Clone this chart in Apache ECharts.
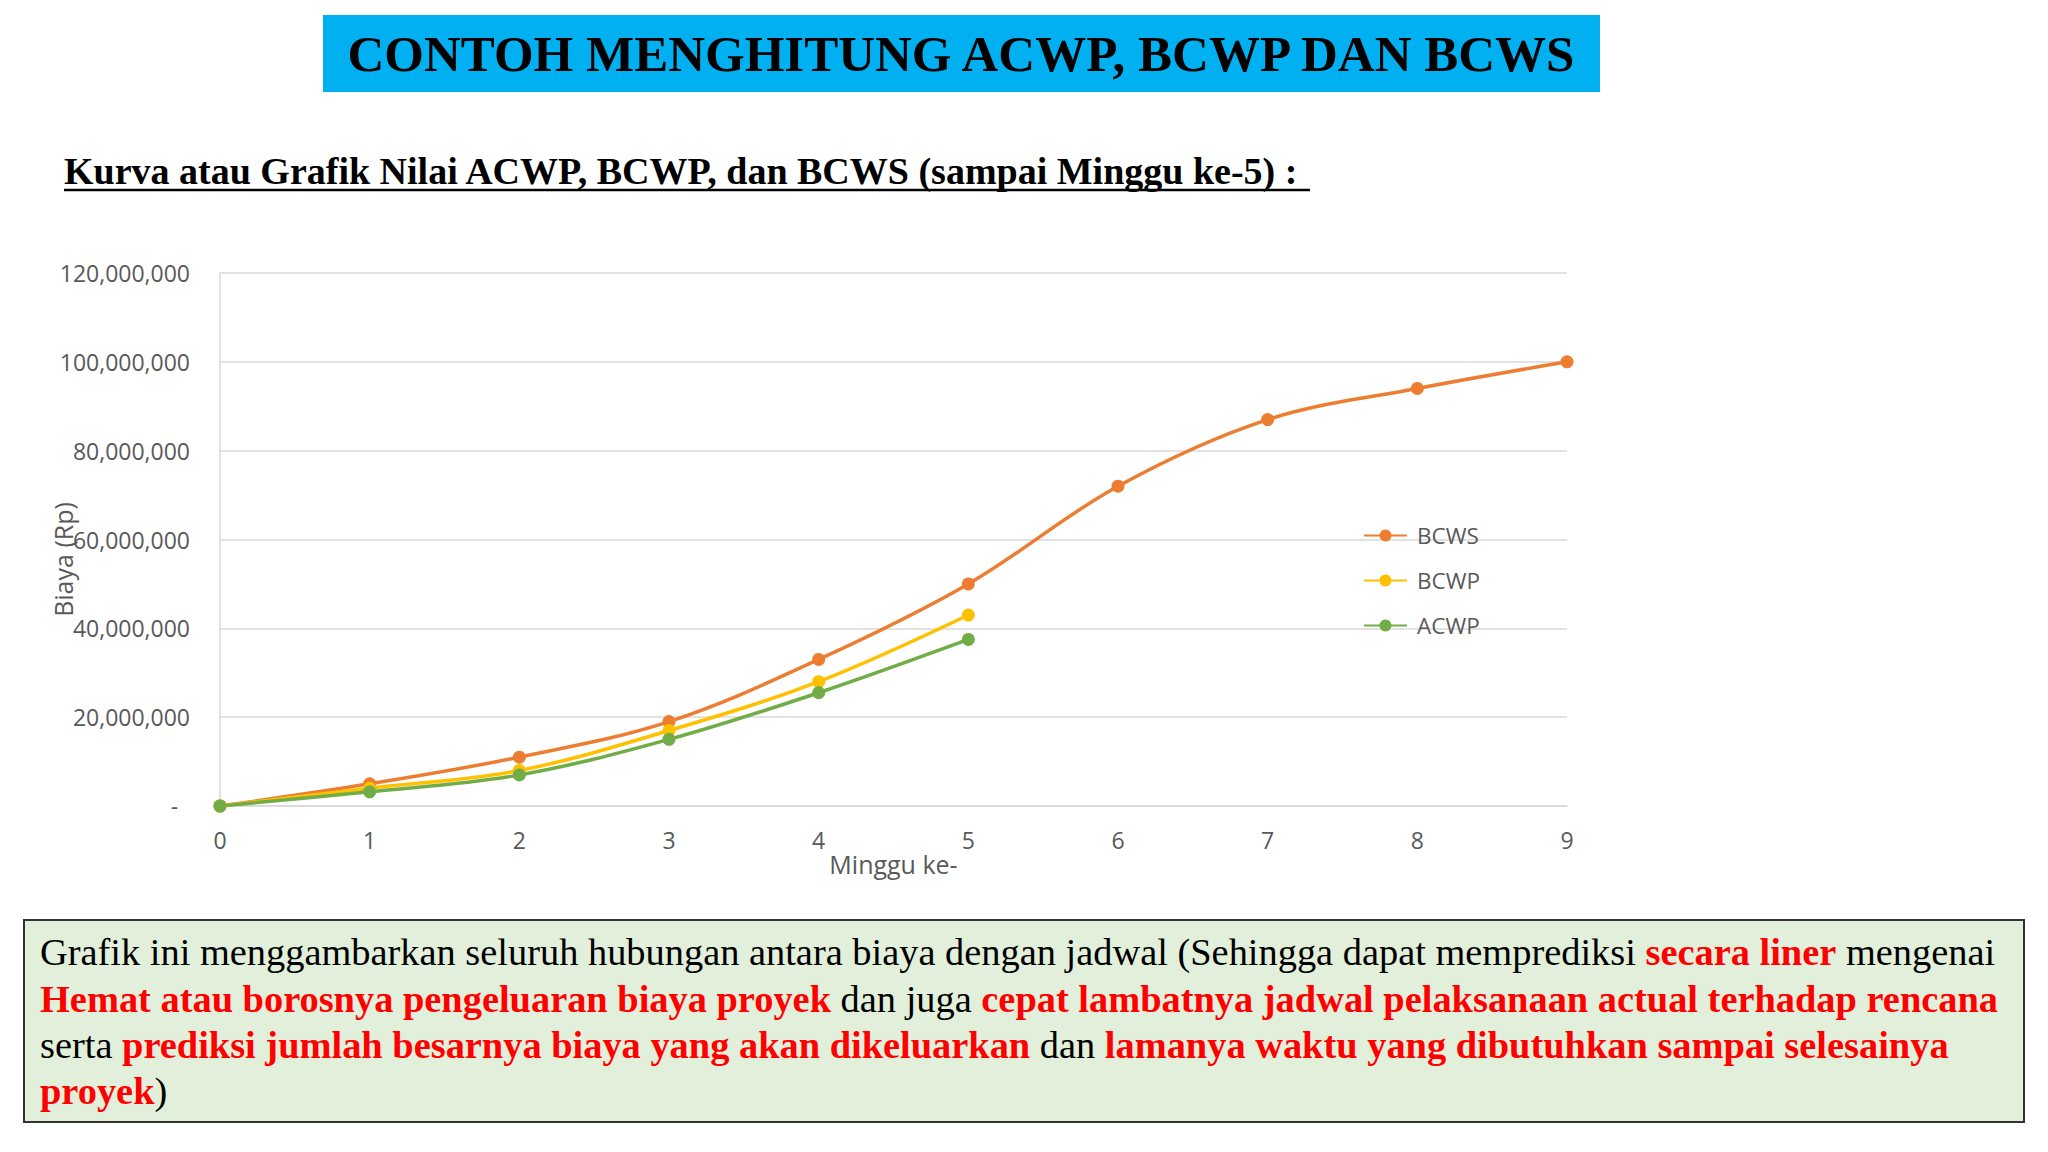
<!DOCTYPE html>
<html><head><meta charset="utf-8">
<script src="https://cdn.jsdelivr.net/npm/echarts@6/dist/echarts.min.js"></script>
<style>html,body{margin:0;padding:0;background:#fff}#c{width:2048px;height:1152px}</style>
</head><body><div id="c"></div>
<script>
// ---- data ----
const weeks = ['0','1','2','3','4','5','6','7','8','9'];
const bcws = [0, 5000000, 11000000, 19000000, 33000000, 50000000, 72000000, 87000000, 94000000, 100000000];
const bcwp = [0, 4000000, 8000000, 17000000, 28000000, 43000000];
const acwp = [0, 3200000, 7000000, 15000000, 25500000, 37500000];
const yMin = 0, yMax = 120000000, yStep = 20000000;

const titleText = 'CONTOH MENGHITUNG ACWP, BCWP DAN BCWS';
const subtitleText = 'Kurva atau Grafik Nilai ACWP, BCWP, dan BCWS (sampai Minggu ke-5) :';
const paraLines = [
  '{n|Grafik ini menggambarkan seluruh hubungan antara biaya dengan jadwal (Sehingga dapat memprediksi }{r|secara liner}{n| mengenai}',
  '{r|Hemat atau borosnya pengeluaran biaya proyek}{n| dan juga }{r|cepat lambatnya jadwal pelaksanaan actual terhadap rencana}',
  '{n|serta }{r|prediksi jumlah besarnya biaya yang akan dikeluarkan}{n| dan }{r|lamanya waktu yang dibutuhkan sampai selesainya}',
  '{r|proyek}{n|)}'
];

const chart = echarts.init(document.getElementById('c'), null, {renderer: 'svg'});
const serif = '"Liberation Serif", "Times New Roman", serif';
const paraFont = 38.4;
const rich = {
  n: {fontFamily: serif, fontSize: paraFont, fill: '#000000', fontWeight: 'normal'},
  r: {fontFamily: serif, fontSize: paraFont, fill: '#FF0000', fontWeight: 'bold'}
};
const paraY = [952, 999, 1045, 1091];

const graphic = [
  {type: 'rect', shape: {x: 323, y: 15, width: 1277, height: 77}, style: {fill: '#00B0F0'}, silent: true},
  {type: 'text', x: 961, y: 54, style: {text: titleText, fontFamily: serif, fontWeight: 'bold', fontSize: 51, fill: '#000', align: 'center', verticalAlign: 'middle'}},
  {type: 'text', x: 64, y: 171, style: {text: subtitleText, fontFamily: serif, fontWeight: 'bold', fontSize: 38, fill: '#000', align: 'left', verticalAlign: 'middle'}},
  {type: 'line', shape: {x1: 64, y1: 190, x2: 1310, y2: 190}, style: {stroke: '#000', lineWidth: 2.5}},
  {type: 'rect', shape: {x: 24, y: 920, width: 2000, height: 202}, style: {fill: '#E2EFDA', stroke: '#333', lineWidth: 2}}
];
paraLines.forEach((t, i) => {
  graphic.push({type: 'text', x: 40, y: paraY[i], style: {text: t, rich: rich, align: 'left', verticalAlign: 'middle'}});
});

const mk = (name, data, color) => ({
  name, type: 'line', data, smooth: 0.35,
  symbol: 'circle', symbolSize: 13,
  lineStyle: {color, width: 3.5},
  itemStyle: {color},
  z: 3
});

chart.setOption({
  animation: false,
  textStyle: {fontFamily: '"Open Sans", sans-serif'},
  grid: {left: 220, right: 481, top: 273, bottom: 346, containLabel: false},
  legend: {
    orient: 'vertical', left: 1358, top: 519, itemGap: 22,
    itemWidth: 43, itemHeight: 15,
    textStyle: {fontSize: 22.5, color: '#595959', fontFamily: '"Open Sans", sans-serif', padding: [0, 0, 0, 5]},
    data: ['BCWS', 'BCWP', 'ACWP']
  },
  xAxis: {
    type: 'category', data: weeks, boundaryGap: false,
    name: 'Minggu ke-', nameLocation: 'middle', nameGap: 44,
    nameTextStyle: {fontSize: 25, color: '#595959'},
    axisLine: {lineStyle: {color: '#D9D9D9', width: 1.5}},
    axisTick: {show: false},
    axisLabel: {fontSize: 23, color: '#595959', margin: 22},
    splitLine: {show: false}
  },
  yAxis: {
    type: 'value', min: yMin, max: yMax, interval: yStep,
    name: 'Biaya (Rp)', nameLocation: 'middle', nameGap: 145, nameRotate: 90,
    nameMoveOverlap: false,
    nameTextStyle: {fontSize: 25, color: '#595959', padding: [0, 40, 0, 0]},
    axisLine: {show: true, lineStyle: {color: '#D9D9D9', width: 1.5}},
    axisTick: {show: false},
    axisLabel: {fontSize: 23, color: '#595959', margin: 30,
      formatter: v => v === 0 ? '-  ' : v.toString().replace(/\B(?=(\d{3})+(?!\d))/g, ',')},
    splitLine: {lineStyle: {color: '#D9D9D9', width: 1.5}}
  },
  series: [
    mk('BCWS', bcws, '#ED7D31'),
    mk('BCWP', bcwp, '#FFC000'),
    mk('ACWP', acwp, '#70AD47')
  ],
  graphic: graphic
});
</script></body></html>
